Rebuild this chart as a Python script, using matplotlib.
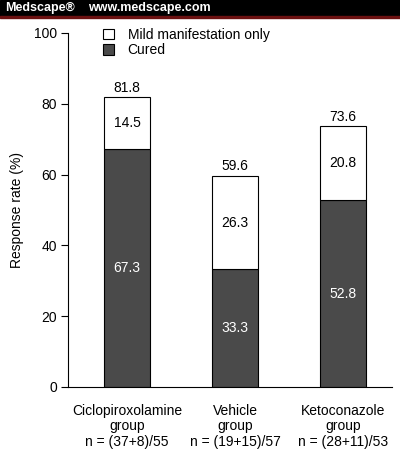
import numpy as np
import matplotlib.pyplot as plt

plt.rcParams['font.family'] = ['Liberation Sans', 'DejaVu Sans']

groups = ['Ciclopiroxolamine\ngroup\nn = (37+8)/55',
          'Vehicle\ngroup\nn = (19+15)/57',
          'Ketoconazole\ngroup\nn = (28+11)/53']
cured = [67.3, 33.3, 52.8]
mild = [14.5, 26.3, 20.8]
total = [81.8, 59.6, 73.6]
yticks = [0, 20, 40, 60, 80, 100]

dark = '#4a4a4a'
fig = plt.figure(figsize=(4.0, 4.59), dpi=100)

# header bar
fig.patches.append(plt.Rectangle((0, 1 - 16/459), 1, 16/459, transform=fig.transFigure,
                                 color='black', zorder=0))
fig.patches.append(plt.Rectangle((0, 1 - 18/459), 1, 2/459, transform=fig.transFigure,
                                 color='#6b1010', zorder=0))
fig.text(5/400, 1 - 8/459, 'Medscape\u00ae', color='white', fontsize=9,
         fontweight='bold', va='center', ha='left')
fig.text(88/400, 1 - 8/459, 'www.medscape.com', color='white', fontsize=9,
         fontweight='bold', va='center', ha='left')

ax = fig.add_axes([68/400, 1 - 387/459, 324/400, 354/459])
x = np.arange(len(groups))
w = 0.426
ax.bar(x, cured, w, color=dark, edgecolor='black', linewidth=0.8, label='Cured')
ax.bar(x, mild, w, bottom=cured, color='white', edgecolor='black', linewidth=0.8,
       label='Mild manifestation only')

for i in range(len(groups)):
    ax.text(x[i], cured[i] / 2, f'{cured[i]}', ha='center', va='center', color='white', fontsize=10)
    ax.text(x[i], cured[i] + mild[i] / 2, f'{mild[i]}', ha='center', va='center', fontsize=10)
    ax.text(x[i], total[i] + 0.8, f'{total[i]}', ha='center', va='bottom', fontsize=10)

ax.set_xlim(-0.546, 2.454)
ax.set_ylim(0, 100)
ax.set_yticks(yticks)
ax.tick_params(axis='y', labelsize=10, length=5, width=0.8, pad=3)
ax.set_xticks(x)
ax.set_xticklabels(groups, fontsize=10, linespacing=1.15)
ax.tick_params(axis='x', length=0, pad=12)
ax.spines['top'].set_visible(False)
ax.spines['right'].set_visible(False)
ax.set_ylabel('Response rate (%)', fontsize=10, labelpad=7)

h, l = ax.get_legend_handles_labels()
ax.legend(h[::-1], l[::-1], loc='upper left', bbox_to_anchor=(0.09, 1.03), frameon=False,
          fontsize=10, handlelength=0.8, handleheight=0.8, handletextpad=1.0,
          labelspacing=0.1, borderaxespad=0)

fig.savefig('out.png', dpi=100)
